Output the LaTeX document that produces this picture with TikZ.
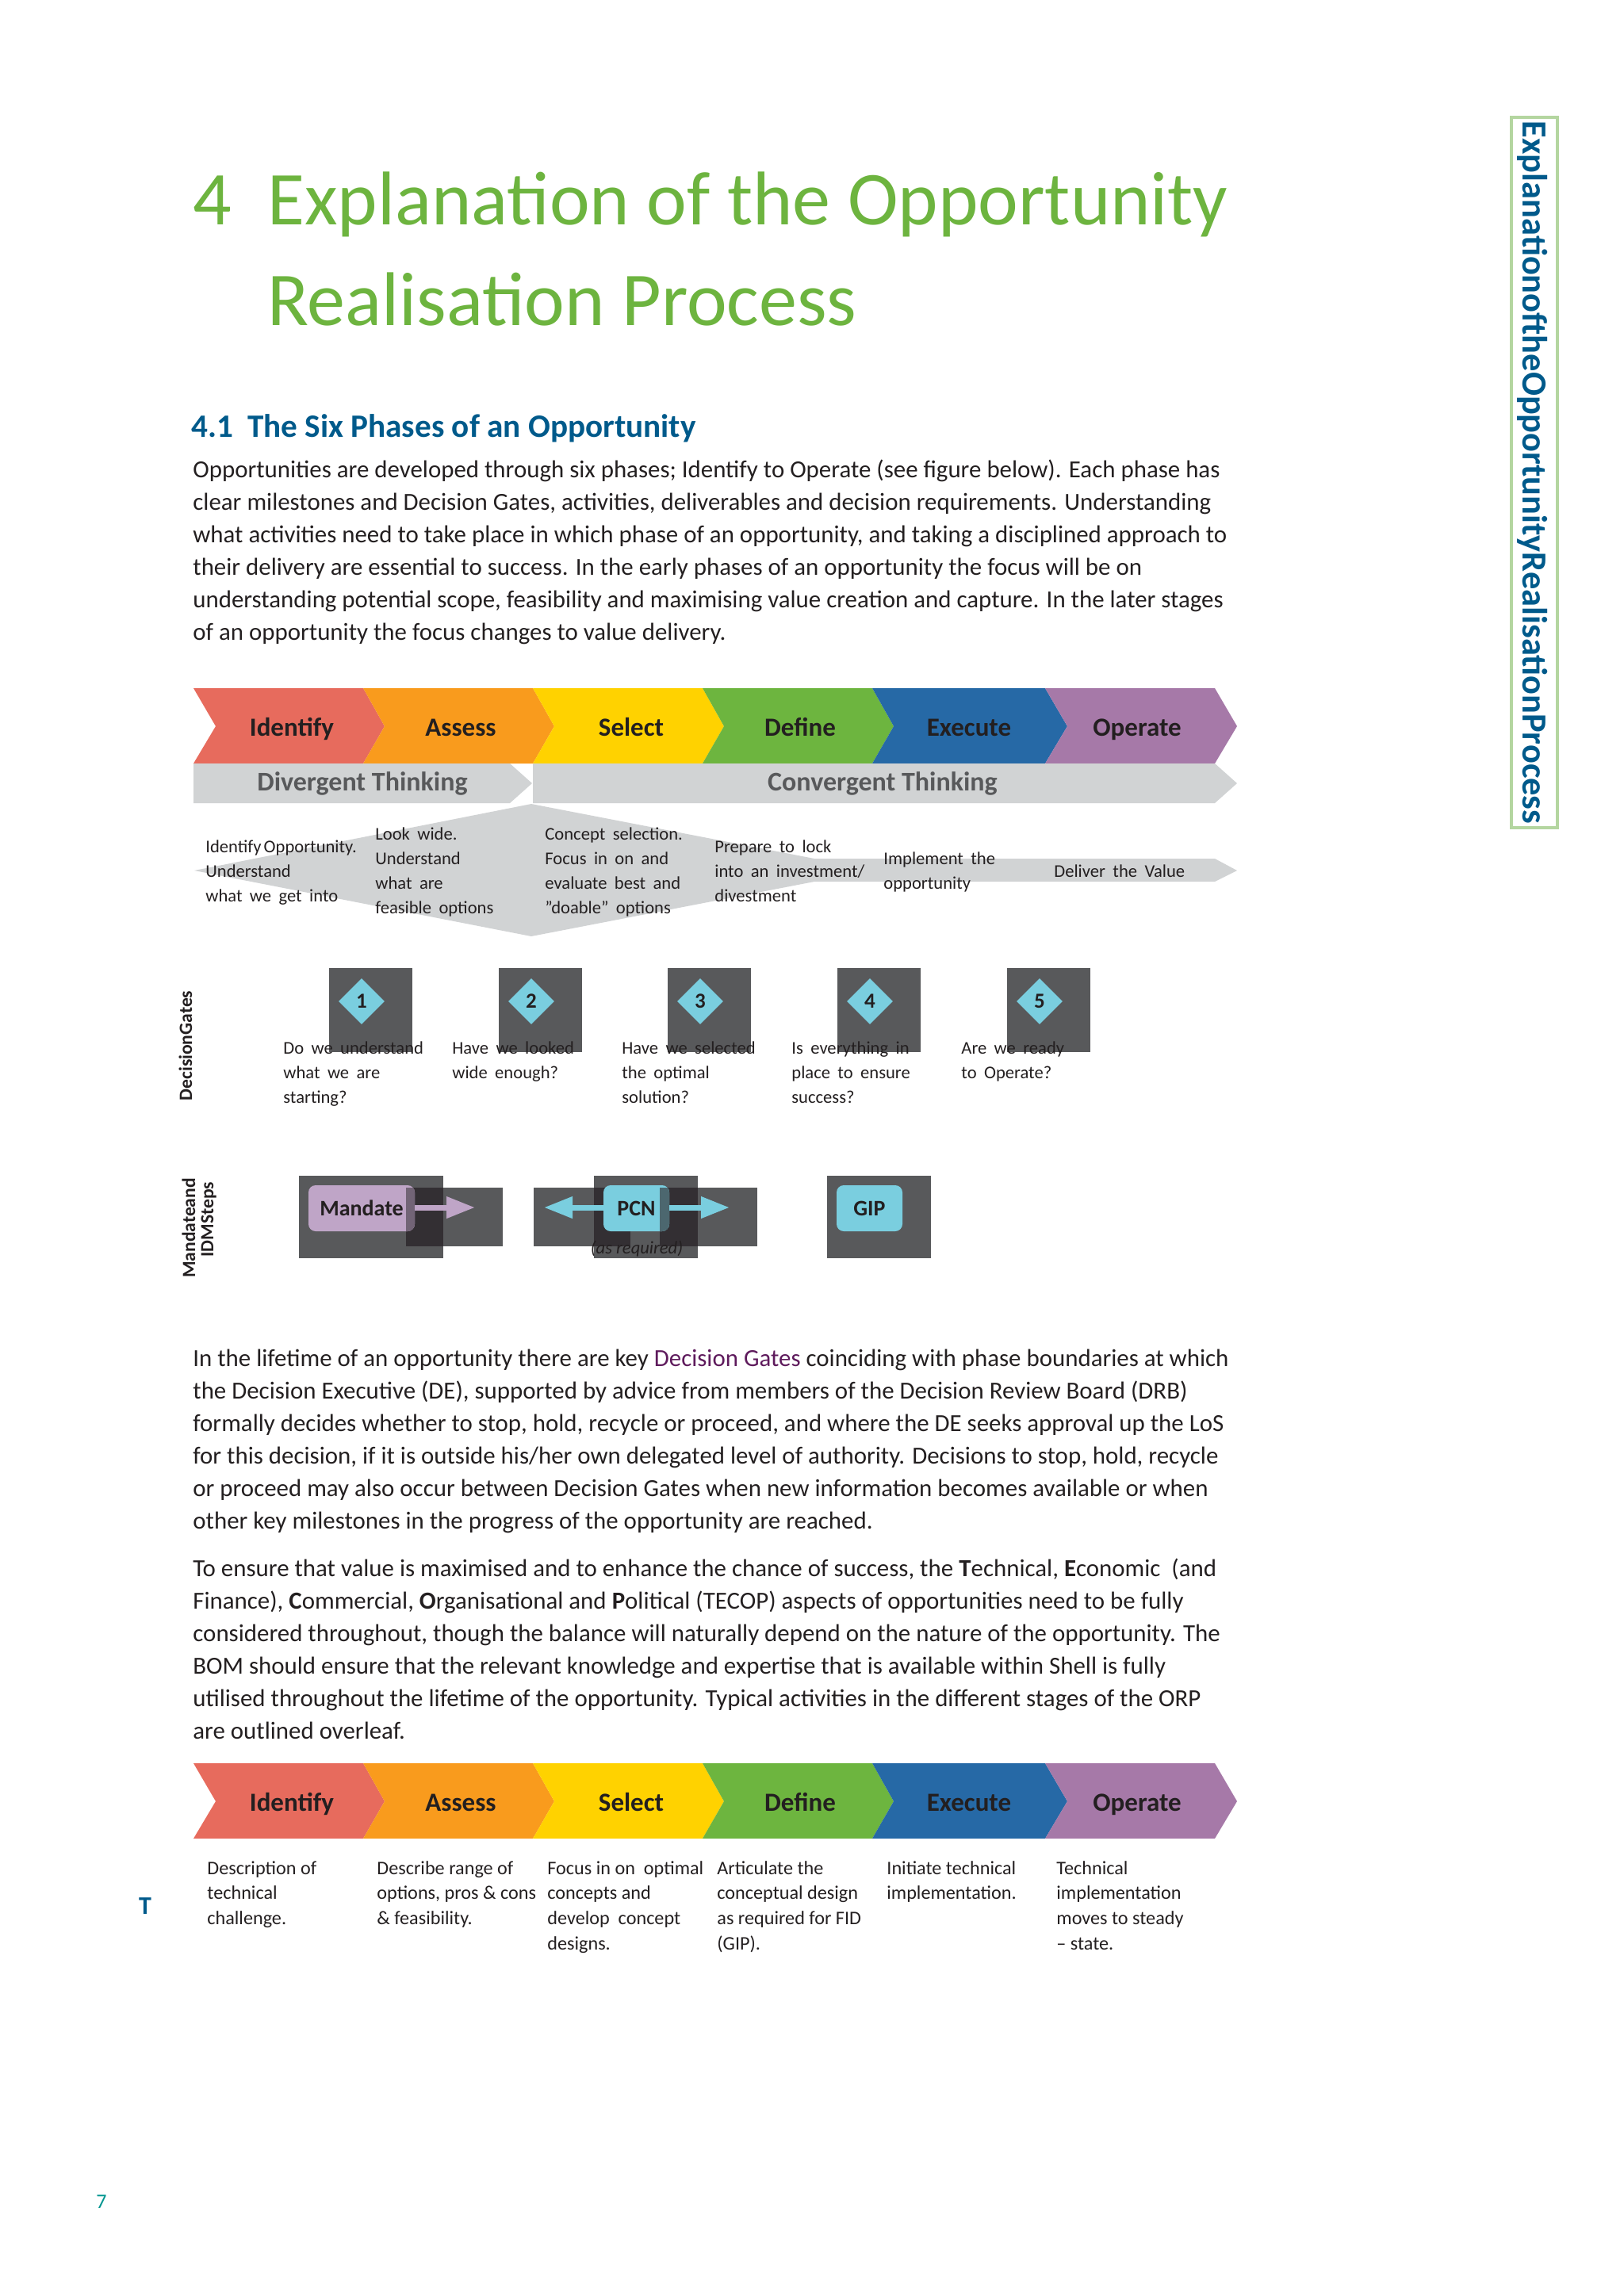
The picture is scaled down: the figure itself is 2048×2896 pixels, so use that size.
\documentclass[tikz,border=0pt]{standalone}
\usepackage{fontspec}
\setmainfont{Carlito}
\usepackage{xcolor}
\usetikzlibrary{calc}
\usetikzlibrary{arrows.meta}
\usetikzlibrary{shapes.geometric}
\definecolor{titlegreen}{HTML}{6DB43F}
\definecolor{tabgreen}{HTML}{B4D6A0}
\definecolor{headblue}{HTML}{005A8B}
\definecolor{bodyink}{HTML}{231F20}
\definecolor{gateink}{HTML}{58595B}
\definecolor{overlapink}{HTML}{332F33}
\definecolor{phasegrey}{HTML}{D1D3D4}
\definecolor{gatecyan}{HTML}{7ACEDF}
\definecolor{mandlilac}{HTML}{BFA5C7}
\definecolor{linkpurple}{HTML}{5E1A5C}
\definecolor{pageteal}{HTML}{00958F}
\definecolor{identifyred}{HTML}{E76B5D}
\definecolor{assessorange}{HTML}{F99B1D}
\definecolor{selectyellow}{HTML}{FFD200}
\definecolor{definegreen}{HTML}{6DB53F}
\definecolor{executeblue}{HTML}{2669A6}
\definecolor{operatemauve}{HTML}{A679A8}
\newcommand{\smallfont}{\fontsize{11.3}{15.6}\selectfont\spaceskip 4.7pt\relax}
\tikzset{
    paratext/.style={anchor=north west,inner sep=0pt,align=left,text=bodyink,font=\fontsize{15.45}{20.5}\selectfont},
    smalltext/.style={anchor=north west,inner sep=0pt,align=left,text=bodyink,font=\smallfont},
    techtext/.style={anchor=north west,inner sep=0pt,align=left,text=bodyink,font=\fontsize{12.1}{15.8}\selectfont},
    phaselabel/.style={anchor=base,inner sep=0pt,text=bodyink,font=\fontsize{16.5}{19}\selectfont\bfseries},
    thinklabel/.style={anchor=base,inner sep=0pt,text=gateink,font=\fontsize{17}{20}\selectfont\bfseries},
    gatebox/.style={fill=gateink,draw=none},
    sidelabel/.style={rotate=90,anchor=base,inner sep=0pt,text=bodyink,font=\fontsize{11.8}{14}\selectfont\bfseries},
    stepnode/.style={rounded corners=4.5pt,minimum width=#1,minimum height=29pt,inner sep=0pt,text=bodyink,font=\fontsize{14}{16}\selectfont\bfseries},
    gatenode/.style={diamond,fill=gatecyan,minimum size=29pt,inner sep=0pt,text=bodyink,font=\fontsize{13.5}{15}\selectfont\bfseries},
    steparrow/.style={line width=3.5pt,-{Triangle[length=18pt,width=13pt]}},
}
% chevron row, the top edge sits on y=#1
\newcommand{\phaserow}[1]{
    \fill[identifyred] (244,#1) -- (458,#1) -- (485,#1+48) -- (458,#1+95) -- (244,#1+95) -- (272,#1+48) -- cycle;
    \fill[assessorange] (458,#1) -- (672,#1) -- (699,#1+48) -- (672,#1+95) -- (458,#1+95) -- (485,#1+48) -- cycle;
    \fill[selectyellow] (672,#1) -- (886,#1) -- (913,#1+48) -- (886,#1+95) -- (672,#1+95) -- (699,#1+48) -- cycle;
    \fill[definegreen] (886,#1) -- (1100,#1) -- (1127,#1+48) -- (1100,#1+95) -- (886,#1+95) -- (913,#1+48) -- cycle;
    \fill[executeblue] (1100,#1) -- (1318,#1) -- (1346,#1+48) -- (1318,#1+95) -- (1100,#1+95) -- (1127,#1+48) -- cycle;
    \fill[operatemauve] (1318,#1) -- (1532,#1) -- (1560,#1+48) -- (1532,#1+95) -- (1318,#1+95) -- (1346,#1+48) -- cycle;
}
\begin{document}
\begin{tikzpicture}[x=0.5pt,y=-0.5pt]
    \useasboundingbox (0,0) rectangle (2048,2896);
    % side tab
    \draw[line width=2pt,draw=tabgreen] (1906,148) rectangle (1964,1044);
    \node[rotate=-90,anchor=base,inner sep=0pt,text=headblue,font=\fontsize{22.2}{26}\selectfont\bfseries] (sidetab) at (1920,596) {ExplanationoftheOpportunityRealisationProcess};
    % headings
    \node[anchor=base west,inner sep=0pt,text=titlegreen,font=\fontsize{48}{56}\selectfont] (chapno) at (243,283) {4};
    \node[anchor=base west,inner sep=0pt,text=titlegreen,font=\fontsize{48}{56}\selectfont] (titleone) at (337,283) {Explanation of the Opportunity};
    \node[anchor=base west,inner sep=0pt,text=titlegreen,font=\fontsize{48}{56}\selectfont] (titletwo) at (337,410) {Realisation Process};
    \node[anchor=base west,inner sep=0pt,text=headblue,font=\fontsize{20.6}{24}\selectfont\bfseries] (sectionhead) at (241,551) {4.1\hspace{9pt}The Six Phases of an Opportunity};
    \node[paratext] (paraone) at (243,579) {Opportunities are developed through six phases; Identify to Operate (see figure below). Each phase has\\
    clear milestones and Decision Gates, activities, deliverables and decision requirements. Understanding\\
    what activities need to take place in which phase of an opportunity, and taking a disciplined approach to\\
    their delivery are essential to success. In the early phases of an opportunity the focus will be on\\
    understanding potential scope, feasibility and maximising value creation and capture. In the later stages\\
    of an opportunity the focus changes to value delivery.};
    % upper phase row
    \phaserow{868}
    \node[phaselabel] (identA) at (368,928) {Identify};
    \node[phaselabel] (assessA) at (581,928) {Assess};
    \node[phaselabel] (selectA) at (796,928) {Select};
    \node[phaselabel] (defineA) at (1009,928) {Define};
    \node[phaselabel] (executeA) at (1222,928) {Execute};
    \node[phaselabel] (operateA) at (1434,928) {Operate};
    % thinking bars
    \fill[phasegrey] (244,963) -- (643,963) -- (671,988) -- (643,1013) -- (244,1013) -- cycle;
    \fill[phasegrey] (672,963) -- (1532,963) -- (1560,988) -- (1532,1013) -- (672,1013) -- cycle;
    \node[thinklabel] (divergent) at (457,997) {Divergent Thinking};
    \node[thinklabel] (convergent) at (1113,997) {Convergent Thinking};
    \fill[phasegrey] (245,1098) -- (670,1014) -- (1027,1083) -- (1532,1083) -- (1560,1098) -- (1532,1112) -- (1027,1112) -- (670,1181) -- cycle;
    \node[smalltext] (focusA) at (259,1059) {Identify\hspace{1.5pt}Opportunity.\\Understand\\what we get into};
    \node[smalltext] (focusB) at (473,1043) {Look wide.\\Understand\\what are\\feasible options};
    \node[smalltext] (focusC) at (687,1043) {Concept selection.\\Focus in on and\\evaluate best and\\"doable" options};
    \node[smalltext] (focusD) at (901,1059) {Prepare to lock\\into an investment/\\divestment};
    \node[smalltext] (focusE) at (1114,1074) {Implement the\\opportunity};
    \node[smalltext] (focusF) at (1329,1090) {Deliver the Value};
    % decision gates
    \node[sidelabel] (gateside) at (242,1319) {DecisionGates};
    \foreach \gx/\gnum in {415/1,629/2,842/3,1056/4,1270/5}{
        \fill[gatebox] (\gx,1221) rectangle ++(105,106);
        \node[gatenode] (gate\gnum) at ($(\gx,1263)+(41,0)$) {\gnum};
    }
    \node[smalltext] (askA) at (357,1313) {Do we understand\\what we are\\starting?};
    \node[smalltext] (askB) at (570,1313) {Have we looked\\wide enough?};
    \node[smalltext] (askC) at (784,1313) {Have we selected\\the optimal\\solution?};
    \node[smalltext] (askD) at (998,1313) {Is everything in\\place to ensure\\success?};
    \node[smalltext] (askE) at (1212,1313) {Are we ready\\to Operate?};
    % mandate and idm steps
    \node[sidelabel] (stepsideA) at (246,1549) {Mandateand};
    \node[sidelabel] (stepsideB) at (269,1538) {IDMSteps};
    \fill[gatebox] (377,1483) rectangle (559,1587);
    \fill[gatebox] (512,1498) rectangle (634,1572);
    \fill[overlapink] (512,1498) rectangle (559,1572);
    \node[stepnode=67pt,fill=mandlilac] (mandate) at (456,1524) {Mandate};
    \fill[gatebox] (749,1483) rectangle (880,1587);
    \fill[gatebox] (673,1498) rectangle (749,1572);
    \fill[gatebox] (880,1498) rectangle (955,1572);
    \fill[overlapink] (749,1498) rectangle (795,1572);
    \fill[overlapink] (832,1498) rectangle (880,1572);
    \node[stepnode=41.5pt,fill=gatecyan] (pcn) at (802.5,1524) {PCN};
    \fill[gatebox] (1043,1483) rectangle (1174,1587);
    \node[stepnode=41.5pt,fill=gatecyan] (gip) at (1096.5,1524) {GIP};
    \begin{scope}
        \clip (512,1498) rectangle (559,1572);
        \fill[rounded corners=4.5pt,fill=mandlilac!45!overlapink] (389,1495) rectangle (523,1553);
    \end{scope}
    \begin{scope}
        \clip (832,1498) rectangle (880,1572);
        \fill[rounded corners=4.5pt,fill=gatecyan!35!overlapink] (761,1495) rectangle (844,1553);
    \end{scope}
    \coordinate (mandtip) at (599,1523);
    \coordinate (pcnleft) at (686,1523);
    \coordinate (pcnright) at (920,1523);
    \draw[steparrow,draw=mandlilac,fill=mandlilac] (mandate.east|-mandtip) -- (mandtip);
    \draw[steparrow,draw=gatecyan,fill=gatecyan] (pcn.west|-pcnleft) -- (pcnleft);
    \draw[steparrow,draw=gatecyan,fill=gatecyan] (pcn.east|-pcnright) -- (pcnright);
    \node[anchor=base,inner sep=0pt,text=bodyink,font=\fontsize{11.3}{13}\selectfont\itshape] (asreq) at (803,1581) {(as required)};
    % second and third paragraph
    \node[paratext] (paratwo) at (243,1702) {In the lifetime of an opportunity there are key {\color{linkpurple}Decision Gates} coinciding with phase boundaries at which\\
    the Decision Executive (DE), supported by advice from members of the Decision Review Board (DRB)\\
    formally decides whether to stop, hold, recycle or proceed, and where the DE seeks approval up the LoS\\
    for this decision, if it is outside his/her own delegated level of authority. Decisions to stop, hold, recycle\\
    or proceed may also occur between Decision Gates when new information becomes available or when\\
    other key milestones in the progress of the opportunity are reached.};
    \node[paratext] (parathree) at (243,1965) {To ensure that value is maximised and to enhance the chance of success, the \textbf{T}echnical, \textbf{E}conomic\ \ (and\\
    Finance), \textbf{C}ommercial, \textbf{O}rganisational and \textbf{P}olitical (TECOP) aspects of opportunities need to be fully\\
    considered throughout, though the balance will naturally depend on the nature of the opportunity. The\\
    BOM should ensure that the relevant knowledge and expertise that is available within Shell is fully\\
    utilised throughout the lifetime of the opportunity. Typical activities in the different stages of the ORP\\
    are outlined overleaf.};
    % lower phase row
    \phaserow{2224}
    \node[phaselabel] (identB) at (368,2284) {Identify};
    \node[phaselabel] (assessB) at (581,2284) {Assess};
    \node[phaselabel] (selectB) at (796,2284) {Select};
    \node[phaselabel] (defineB) at (1009,2284) {Define};
    \node[phaselabel] (executeB) at (1222,2284) {Execute};
    \node[phaselabel] (operateB) at (1434,2284) {Operate};
    \node[anchor=base,inner sep=0pt,text=headblue,font=\fontsize{16}{19}\selectfont\bfseries] (techmark) at (183,2414) {T};
    \node[techtext] (techA) at (261,2347) {Description of\\technical\\challenge.};
    \node[techtext] (techB) at (475,2347) {Describe range of\\options, pros \& cons\\\& feasibility.};
    \node[techtext] (techC) at (690,2347) {Focus in on\ \ optimal\\concepts and\\develop\ \ concept\\designs.};
    \node[techtext] (techD) at (904,2347) {Articulate the\\conceptual design\\as required for FID\\(GIP).};
    \node[techtext] (techE) at (1118,2347) {Initiate technical\\implementation.};
    \node[techtext] (techF) at (1332,2347) {Technical\\implementation\\moves to steady\\– state.};
    % page number
    \node[anchor=base,inner sep=0pt,text=pageteal,font=\fontsize{13}{15}\selectfont] (pageno) at (128,2785) {7};
\end{tikzpicture}
\end{document}
